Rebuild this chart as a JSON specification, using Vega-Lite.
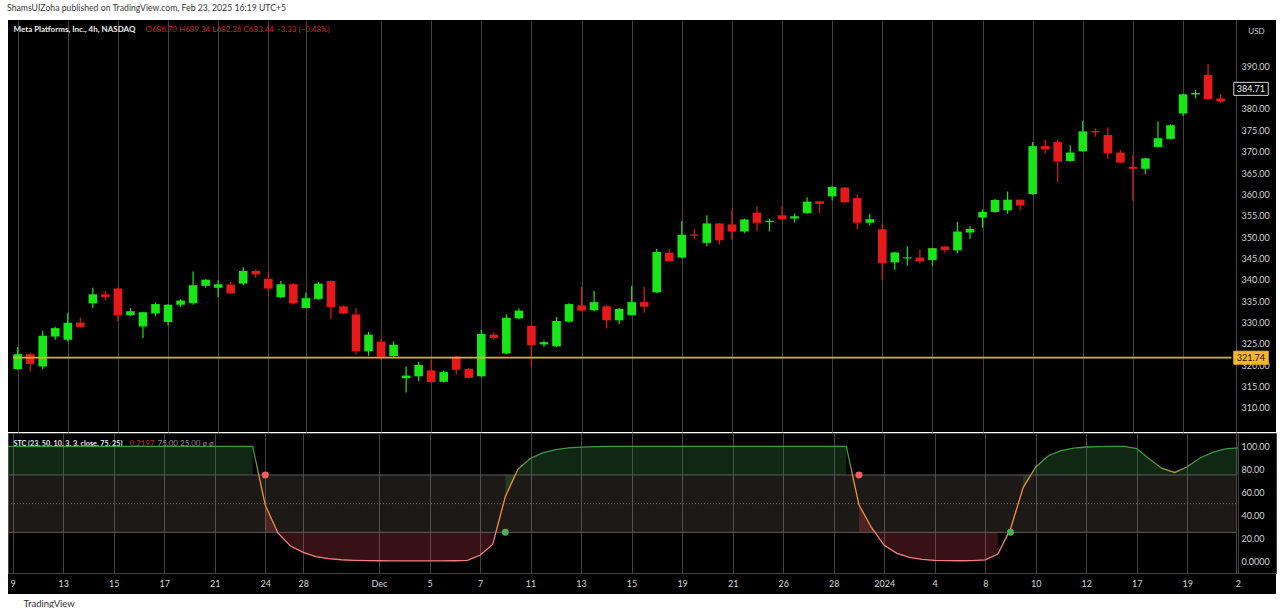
{
  "$schema": "https://vega.github.io/schema/vega-lite/v6.json",
  "background": "white",
  "padding": {"left": 7, "top": 4, "right": 5, "bottom": 0},
  "title": {"text": "ShamsUIZoha published on TradingView.com, Feb 23, 2025 16:19 UTC+5", "anchor": "start", "fontSize": 8.7, "fontWeight": "normal", "color": "#3a3a3a", "offset": 7.3},
  "spacing": 0,
  "datasets": {
    "bars": [
      {"i": -1, "s": 100, "z": "g1"},
      {"i": 0, "o": 319.06, "h": 324.24, "l": 318.9, "c": 322.56, "s": 100, "z": "g1"},
      {"i": 1, "o": 322.56, "h": 322.87, "l": 318.5, "c": 320.28, "s": 100, "z": "g1"},
      {"i": 2, "o": 319.67, "h": 328.05, "l": 319.06, "c": 326.9, "s": 100, "z": "g1"},
      {"i": 3, "o": 326.68, "h": 328.96, "l": 325.92, "c": 328.66, "s": 100, "z": "g1"},
      {"i": 4, "o": 325.92, "h": 332.24, "l": 325.61, "c": 329.95, "s": 100, "z": "g1"},
      {"i": 5, "o": 329.95, "h": 331.1, "l": 328.8, "c": 328.96, "s": 100, "z": "g1"},
      {"i": 6, "o": 334.45, "h": 338.11, "l": 333.38, "c": 336.58, "s": 100, "z": "g1"},
      {"i": 7, "o": 336.58, "h": 337.35, "l": 335.2, "c": 335.97, "s": 100, "z": "g1"},
      {"i": 8, "o": 337.95, "h": 338.11, "l": 330.34, "c": 331.71, "s": 100, "z": "g1"},
      {"i": 9, "o": 331.71, "h": 333.38, "l": 331.48, "c": 332.62, "s": 100, "z": "g1"},
      {"i": 10, "o": 329.04, "h": 332.5, "l": 326.37, "c": 332.39, "s": 100, "z": "g1"},
      {"i": 11, "o": 332.09, "h": 334.68, "l": 331.48, "c": 334.3, "s": 100, "z": "g1"},
      {"i": 12, "o": 330.1, "h": 334.3, "l": 329.42, "c": 334.14, "s": 100, "z": "g1"},
      {"i": 13, "o": 334.14, "h": 335.44, "l": 333.61, "c": 335.13, "s": 100, "z": "g1"},
      {"i": 14, "o": 334.52, "h": 341.9, "l": 334.14, "c": 338.72, "s": 100, "z": "g1"},
      {"i": 15, "o": 338.56, "h": 340.1, "l": 338.1, "c": 340.01, "s": 100, "z": "g1"},
      {"i": 16, "o": 338.11, "h": 339.86, "l": 335.9, "c": 338.94, "s": 100, "z": "g1"},
      {"i": 17, "o": 338.87, "h": 339.48, "l": 336.66, "c": 336.81, "s": 100, "z": "g1"},
      {"i": 18, "o": 339.1, "h": 342.91, "l": 338.72, "c": 342.07, "s": 100, "z": "g1"},
      {"i": 19, "o": 342.07, "h": 342.37, "l": 340.39, "c": 341.23, "s": 100, "z": "g1"},
      {"i": 20, "o": 340.24, "h": 341.76, "l": 337.19, "c": 337.95, "s": 48.5, "z": "r1", "d": 75},
      {"i": 21, "o": 335.9, "h": 339.71, "l": 335.67, "c": 338.94, "s": 24.5, "z": "r1"},
      {"i": 22, "o": 338.94, "h": 339.1, "l": 334.14, "c": 334.52, "s": 13, "z": "r1"},
      {"i": 23, "o": 333.38, "h": 336.96, "l": 333.23, "c": 335.67, "s": 7.5, "z": "r1"},
      {"i": 24, "o": 335.51, "h": 339.48, "l": 335.3, "c": 339.1, "s": 3.8, "z": "r1"},
      {"i": 25, "o": 339.71, "h": 339.8, "l": 330.87, "c": 333.61, "s": 2.0, "z": "r1"},
      {"i": 26, "o": 333.76, "h": 334.0, "l": 331.9, "c": 332.09, "s": 1.1, "z": "r1"},
      {"i": 27, "o": 331.86, "h": 333.38, "l": 322.49, "c": 323.25, "s": 0.6, "z": "r1"},
      {"i": 28, "o": 323.25, "h": 327.82, "l": 322.18, "c": 327.13, "s": 0.3, "z": "r1"},
      {"i": 29, "o": 325.53, "h": 326.15, "l": 321.19, "c": 321.95, "s": 0.2, "z": "r1"},
      {"i": 30, "o": 322.1, "h": 325.53, "l": 321.95, "c": 324.77, "s": 0.1, "z": "r1"},
      {"i": 31, "o": 316.93, "h": 319.67, "l": 313.57, "c": 317.54, "s": 0.1, "z": "r1"},
      {"i": 32, "o": 317.38, "h": 320.81, "l": 316.24, "c": 320.05, "s": 0.1, "z": "r1"},
      {"i": 33, "o": 318.75, "h": 321.19, "l": 315.9, "c": 316.01, "s": 0.1, "z": "r1"},
      {"i": 34, "o": 316.09, "h": 318.68, "l": 315.93, "c": 318.37, "s": 0.1, "z": "r1"},
      {"i": 35, "o": 321.95, "h": 322.18, "l": 317.77, "c": 318.91, "s": 0.2, "z": "r1"},
      {"i": 36, "o": 319.13, "h": 319.3, "l": 316.9, "c": 317.0, "s": 0.5, "z": "r1"},
      {"i": 37, "o": 317.38, "h": 328.2, "l": 317.23, "c": 327.29, "s": 5.0, "z": "r1"},
      {"i": 38, "o": 327.13, "h": 327.67, "l": 325.92, "c": 326.37, "s": 14.5, "z": "r1"},
      {"i": 39, "o": 322.72, "h": 331.86, "l": 322.56, "c": 331.1, "s": 56, "z": "g2", "d": 25},
      {"i": 40, "o": 330.94, "h": 333.23, "l": 330.72, "c": 332.77, "s": 80, "z": "g2"},
      {"i": 41, "o": 329.19, "h": 329.3, "l": 319.67, "c": 324.62, "s": 89.5, "z": "g2"},
      {"i": 42, "o": 324.85, "h": 325.76, "l": 324.24, "c": 325.38, "s": 94.5, "z": "g2"},
      {"i": 43, "o": 324.39, "h": 331.25, "l": 324.24, "c": 330.34, "s": 97.2, "z": "g2"},
      {"i": 44, "o": 330.18, "h": 334.5, "l": 329.95, "c": 334.3, "s": 98.6, "z": "g2"},
      {"i": 45, "o": 333.99, "h": 338.33, "l": 332.62, "c": 332.77, "s": 99.3, "z": "g2"},
      {"i": 46, "o": 332.85, "h": 337.35, "l": 332.62, "c": 334.75, "s": 99.7, "z": "g2"},
      {"i": 47, "o": 333.76, "h": 334.0, "l": 328.58, "c": 330.49, "s": 99.9, "z": "g2"},
      {"i": 48, "o": 330.49, "h": 333.38, "l": 329.65, "c": 333.15, "s": 100, "z": "g2"},
      {"i": 49, "o": 331.71, "h": 338.56, "l": 331.6, "c": 334.75, "s": 100, "z": "g2"},
      {"i": 50, "o": 334.75, "h": 338.33, "l": 332.24, "c": 333.69, "s": 100, "z": "g2"},
      {"i": 51, "o": 337.04, "h": 347.25, "l": 336.9, "c": 346.49, "s": 100, "z": "g2"},
      {"i": 52, "o": 346.33, "h": 347.25, "l": 344.2, "c": 344.36, "s": 100, "z": "g2"},
      {"i": 53, "o": 345.19, "h": 353.73, "l": 344.97, "c": 350.53, "s": 100, "z": "g2"},
      {"i": 54, "o": 350.6, "h": 351.8, "l": 349.5, "c": 350.3, "s": 100, "z": "g2"},
      {"i": 55, "o": 348.62, "h": 355.1, "l": 347.86, "c": 353.19, "s": 100, "z": "g2"},
      {"i": 56, "o": 353.19, "h": 353.3, "l": 348.24, "c": 349.23, "s": 100, "z": "g2"},
      {"i": 57, "o": 352.96, "h": 356.39, "l": 349.38, "c": 351.29, "s": 100, "z": "g2"},
      {"i": 58, "o": 351.29, "h": 354.33, "l": 350.91, "c": 354.11, "s": 100, "z": "g2"},
      {"i": 59, "o": 355.71, "h": 357.23, "l": 351.44, "c": 353.35, "s": 100, "z": "g2"},
      {"i": 60, "o": 353.5, "h": 354.33, "l": 351.29, "c": 353.8, "s": 100, "z": "g2"},
      {"i": 61, "o": 355.1, "h": 357.23, "l": 353.95, "c": 354.18, "s": 100, "z": "g2"},
      {"i": 62, "o": 354.33, "h": 355.48, "l": 353.42, "c": 354.87, "s": 100, "z": "g2"},
      {"i": 63, "o": 355.63, "h": 359.29, "l": 355.48, "c": 358.3, "s": 100, "z": "g2"},
      {"i": 64, "o": 358.37, "h": 358.5, "l": 355.63, "c": 357.76, "s": 100, "z": "g2"},
      {"i": 65, "o": 359.52, "h": 361.95, "l": 358.53, "c": 361.73, "s": 100, "z": "g2"},
      {"i": 66, "o": 361.57, "h": 361.73, "l": 358.0, "c": 358.14, "s": 100, "z": "g2"},
      {"i": 67, "o": 359.13, "h": 359.9, "l": 351.82, "c": 353.35, "s": 49, "z": "r2", "d": 75},
      {"i": 68, "o": 353.35, "h": 355.48, "l": 352.81, "c": 354.18, "s": 29, "z": "r2"},
      {"i": 69, "o": 351.82, "h": 353.19, "l": 339.86, "c": 343.9, "s": 13.7, "z": "r2"},
      {"i": 70, "o": 344.05, "h": 346.5, "l": 342.3, "c": 346.4, "s": 6.7, "z": "r2"},
      {"i": 71, "o": 345.0, "h": 347.86, "l": 343.29, "c": 345.25, "s": 3.2, "z": "r2"},
      {"i": 72, "o": 345.19, "h": 347.1, "l": 343.82, "c": 344.28, "s": 1.5, "z": "r2"},
      {"i": 73, "o": 344.58, "h": 347.5, "l": 343.29, "c": 347.4, "s": 0.6, "z": "r2"},
      {"i": 74, "o": 347.78, "h": 347.9, "l": 346.33, "c": 346.94, "s": 0.3, "z": "r2"},
      {"i": 75, "o": 346.87, "h": 353.57, "l": 346.18, "c": 351.29, "s": 0.2, "z": "r2"},
      {"i": 76, "o": 351.06, "h": 352.58, "l": 349.53, "c": 351.9, "s": 0.3, "z": "r2"},
      {"i": 77, "o": 354.56, "h": 356.47, "l": 352.2, "c": 355.86, "s": 1.0, "z": "r2"},
      {"i": 78, "o": 355.86, "h": 358.9, "l": 355.7, "c": 358.68, "s": 6.1, "z": "r2"},
      {"i": 79, "o": 356.24, "h": 360.66, "l": 355.48, "c": 358.75, "s": 28, "z": "n", "d": 25},
      {"i": 80, "o": 358.75, "h": 358.8, "l": 356.24, "c": 357.38, "s": 64, "z": "g3"},
      {"i": 81, "o": 360.05, "h": 372.24, "l": 359.9, "c": 371.3, "s": 82, "z": "g3"},
      {"i": 82, "o": 371.3, "h": 372.85, "l": 369.57, "c": 370.56, "s": 91.8, "z": "g3"},
      {"i": 83, "o": 372.24, "h": 372.85, "l": 362.87, "c": 367.67, "s": 96.2, "z": "g3"},
      {"i": 84, "o": 367.82, "h": 371.48, "l": 367.67, "c": 369.8, "s": 98.5, "z": "g3"},
      {"i": 85, "o": 370.1, "h": 377.19, "l": 369.95, "c": 374.75, "s": 99.4, "z": "g3"},
      {"i": 86, "o": 374.8, "h": 375.44, "l": 373.5, "c": 374.5, "s": 99.8, "z": "g3"},
      {"i": 87, "o": 373.91, "h": 375.67, "l": 368.28, "c": 369.57, "s": 100, "z": "g3"},
      {"i": 88, "o": 369.8, "h": 370.33, "l": 367.29, "c": 367.44, "s": 100, "z": "g3"},
      {"i": 89, "o": 366.45, "h": 369.2, "l": 358.5, "c": 365.99, "s": 98, "z": "g3"},
      {"i": 90, "o": 365.99, "h": 368.58, "l": 364.77, "c": 368.43, "s": 88.9, "z": "g3"},
      {"i": 91, "o": 371.1, "h": 377.04, "l": 370.95, "c": 373.15, "s": 80.7, "z": "g3"},
      {"i": 92, "o": 373.0, "h": 376.43, "l": 372.85, "c": 376.2, "s": 77.2, "z": "g3"},
      {"i": 93, "o": 378.94, "h": 383.5, "l": 378.33, "c": 383.44, "s": 82.2, "z": "g3"},
      {"i": 94, "o": 383.4, "h": 384.43, "l": 382.5, "c": 383.75, "s": 89.8, "z": "g3"},
      {"i": 95, "o": 388.01, "h": 390.5, "l": 382.2, "c": 382.3, "s": 94.7, "z": "g3"},
      {"i": 96, "o": 382.45, "h": 383.44, "l": 381.38, "c": 381.76, "s": 97.7, "z": "g3"},
      {"i": 97, "s": 98.6, "z": "g3"}
    ],
    "tags": [
      {"p": 321.74, "t": "321.74", "kind": "hl"},
      {"p": 384.71, "t": "384.71", "kind": "last"}
    ]
  },
  "vconcat": [
    {
      "width": 1268,
      "height": 412,
      "view": {"fill": "#000000", "stroke": null},
      "data": {"name": "bars"},
      "resolve": {"axis": {"x": "independent"}},
      "layer": [
        {
          "mark": {"type": "rule", "strokeWidth": 1.2},
          "encoding": {
            "x": {"field": "i", "type": "quantitative", "scale": {"domain": [-0.372, 100.02], "nice": false, "zero": false},
              "axis": {"orient": "top", "values": [0,4,8,12,16,20,23,29,33,37,41,45,49,53,57,61,65,69,73,77,81,85,89,93], "tickCount": 100, "labels": false, "ticks": false, "domain": false, "grid": true, "gridColor": "#424242", "gridWidth": 1, "zindex": 0,
                "title": "O686.70 H689.34 L682.36 C683.44 −3.33 (−0.48%)", "titleColor": "#c42a2a", "titleX": 137, "titleY": 9, "titleAlign": "left", "titleBaseline": "middle", "titleFontSize": 8, "titleFontWeight": "normal"}},
            "y": {"field": "l", "type": "quantitative", "scale": {"domain": [305.5, 399.67], "nice": false, "zero": false},
              "axis": {"orient": "right", "offset": -40, "values": [310,315,320,325,330,335,340,345,350,355,360,365,370,375,380,390], "tickCount": 100, "format": ".2f", "labelColor": "#d4d4d4", "labelFontSize": 9, "labelPadding": 5, "labelAlign": "left", "labelBaseline": "middle", "labelOverlap": false, "ticks": false, "domain": true, "domainColor": "#4a4a4a", "grid": false, "zindex": 0,
                "title": "USD", "titleAngle": 0, "titleX": 20, "titleY": 11, "titleAlign": "center", "titleBaseline": "middle", "titleColor": "#cccccc", "titleFontSize": 8, "titleFontWeight": "normal"}},
            "y2": {"field": "h"},
            "color": {"condition": {"test": "datum.c >= datum.o", "value": "#19e619"}, "value": "#e61a1a"}
          }
        },
        {
          "mark": {"type": "bar", "width": 8.6},
          "encoding": {
            "x": {"field": "i", "type": "quantitative",
              "axis": {"orient": "bottom", "labels": false, "ticks": false, "domain": false, "grid": false, "zindex": 0,
                "title": "Meta Platforms, Inc., 4h, NASDAQ", "titleColor": "#ececec", "titleX": 5, "titleY": -403, "titleAlign": "left", "titleBaseline": "middle", "titleFontSize": 8, "titleFontWeight": "bold"}},
            "y": {"field": "o", "type": "quantitative"},
            "y2": {"field": "c"},
            "color": {"condition": {"test": "datum.c >= datum.o", "value": "#19e619"}, "value": "#e61a1a"}
          }
        },
        {
          "data": {"name": "tags"},
          "transform": [{"filter": "datum.kind == 'hl'"}],
          "mark": {"type": "rule", "color": "#f2a81d", "strokeWidth": 1.6},
          "encoding": {
            "y": {"field": "p", "type": "quantitative"},
            "x": {"datum": -0.372, "type": "quantitative", "axis": null},
            "x2": {"datum": 96.86}
          }
        },
        {
          "data": {"name": "tags"},
          "mark": {"type": "bar", "height": 13, "strokeWidth": 1},
          "encoding": {
            "y": {"field": "p", "type": "quantitative"},
            "x": {"datum": 97.05, "type": "quantitative", "axis": null},
            "x2": {"datum": 99.8},
            "fill": {"field": "kind", "type": "nominal", "scale": {"domain": ["hl", "last"], "range": ["#f5b526", "#000000"]}, "legend": null},
            "stroke": {"field": "kind", "type": "nominal", "scale": {"domain": ["hl", "last"], "range": ["#f5b526", "#d8d8d8"]}, "legend": null}
          }
        },
        {
          "data": {"name": "tags"},
          "mark": {"type": "text", "fontSize": 9, "align": "center", "baseline": "middle"},
          "encoding": {
            "y": {"field": "p", "type": "quantitative"},
            "x": {"datum": 98.42, "type": "quantitative", "axis": null},
            "text": {"field": "t"},
            "color": {"field": "kind", "type": "nominal", "scale": {"domain": ["hl", "last"], "range": ["#141414", "#eeeeee"]}, "legend": null}
          }
        }
      ]
    },
    {
      "width": 1268,
      "height": 140,
      "view": {"fill": "#000000", "stroke": "#454545"},
      "data": {"name": "bars"},
      "resolve": {"axis": {"x": "independent"}},
      "layer": [
        {
          "data": {"values": [{}]},
          "mark": {"type": "rect", "color": "#9b8b7a", "opacity": 0.18},
          "encoding": {
            "x": {"datum": -0.372, "type": "quantitative", "scale": {"domain": [-0.372, 100.02], "nice": false, "zero": false},
              "axis": {"orient": "top", "values": [0,4,8,12,16,20,23,29,33,37,41,45,49,53,57,61,65,69,73,77,81,85,89,93,97], "tickCount": 100, "labels": false, "ticks": false, "domain": false, "grid": true, "gridColor": "#424242", "gridWidth": 1, "zindex": 0,
                "title": "75.00 25.00 ø ø", "titleColor": "#8f8f8f", "titleX": 149, "titleY": 10, "titleAlign": "left", "titleBaseline": "middle", "titleFontSize": 8, "titleFontWeight": "normal"}},
            "x2": {"datum": 96.86},
            "y": {"datum": 25, "type": "quantitative", "scale": {"domain": [-10.46, 111.6], "nice": false, "zero": false},
              "axis": {"orient": "right", "offset": -40, "values": [0, 20, 40, 60, 80, 100], "tickCount": 100, "labelExpr": "datum.value == 0 ? '0.0000' : format(datum.value, '.2f')", "labelColor": "#d4d4d4", "labelFontSize": 9, "labelPadding": 5, "labelAlign": "left", "labelBaseline": "middle", "labelOverlap": false, "ticks": false, "domain": true, "domainColor": "#4a4a4a", "grid": false, "zindex": 0,
                "title": "0.2197", "titleAngle": 0, "titleX": -1107, "titleY": 10, "titleAlign": "left", "titleBaseline": "middle", "titleColor": "#c42a2a", "titleFontSize": 8, "titleFontWeight": "normal"}},
            "y2": {"datum": 75}
          }
        },
        {
          "transform": [{"filter": "datum.z == 'r1' || datum.z == 'r2'"}],
          "mark": {"type": "area", "color": "#e84850", "opacity": 0.24, "clip": true},
          "encoding": {
            "x": {"field": "i", "type": "quantitative",
              "axis": {"orient": "bottom", "labels": false, "ticks": false, "domain": false, "grid": false, "zindex": 0,
                "title": "STC (23, 50, 10, 3, 3, close, 75, 25)", "titleColor": "#ececec", "titleX": 5, "titleY": -130, "titleAlign": "left", "titleBaseline": "middle", "titleFontSize": 7.2, "titleFontWeight": "bold"}},
            "y": {"field": "s", "type": "quantitative"},
            "y2": {"datum": 25},
            "detail": {"field": "z"}
          }
        },
        {
          "transform": [{"filter": "datum.z == 'g1' || datum.z == 'g2' || datum.z == 'g3'"}],
          "mark": {"type": "area", "color": "#3c9c4c", "opacity": 0.25, "clip": true},
          "encoding": {
            "x": {"field": "i", "type": "quantitative", "axis": null},
            "y": {"field": "s", "type": "quantitative"},
            "y2": {"datum": 75},
            "detail": {"field": "z"}
          }
        },
        {
          "data": {"values": [{}]},
          "mark": {"type": "rule", "color": "#5c5c5c", "strokeWidth": 1},
          "encoding": {"y": {"datum": 75, "type": "quantitative"}, "x": {"datum": -0.372, "type": "quantitative", "axis": null}, "x2": {"datum": 96.86}}
        },
        {
          "data": {"values": [{}]},
          "mark": {"type": "rule", "color": "#5c5c5c", "strokeWidth": 1},
          "encoding": {"y": {"datum": 25, "type": "quantitative"}, "x": {"datum": -0.372, "type": "quantitative", "axis": null}, "x2": {"datum": 96.86}}
        },
        {
          "data": {"values": [{}]},
          "mark": {"type": "rule", "color": "#6a6a6a", "strokeWidth": 1, "strokeDash": [1, 2]},
          "encoding": {"y": {"datum": 50, "type": "quantitative"}, "x": {"datum": -0.372, "type": "quantitative", "axis": null}, "x2": {"datum": 96.86}}
        },
        {
          "mark": {"type": "line", "strokeWidth": 1.3, "clip": true,
            "stroke": {"gradient": "linear", "x1": 0, "y1": 0, "x2": 0, "y2": 1,
              "stops": [
                {"offset": 0, "color": "#3f9645"},
                {"offset": 0.12, "color": "#3f9645"},
                {"offset": 0.28, "color": "#f0932b"},
                {"offset": 0.62, "color": "#f0932b"},
                {"offset": 0.8, "color": "#f07f80"},
                {"offset": 1, "color": "#f07f80"}
              ]}},
          "encoding": {
            "x": {"field": "i", "type": "quantitative", "axis": null},
            "y": {"field": "s", "type": "quantitative"}
          }
        },
        {
          "transform": [{"filter": "isValid(datum.d)"}],
          "mark": {"type": "point", "filled": true, "size": 48, "opacity": 1},
          "encoding": {
            "x": {"field": "i", "type": "quantitative", "axis": null},
            "y": {"field": "d", "type": "quantitative"},
            "color": {"condition": {"test": "datum.d > 50", "value": "#f25c5c"}, "value": "#4caf50"}
          }
        }
      ]
    },
    {
      "width": 1268,
      "height": 20,
      "view": {"fill": "#000000", "stroke": null},
      "data": {"name": "bars"},
      "transform": [{"filter": "datum.i >= 0"}],
      "mark": {"type": "point", "opacity": 0, "clip": true},
      "encoding": {
        "x": {"field": "i", "type": "quantitative", "scale": {"domain": [-0.372, 100.02], "nice": false, "zero": false},
          "axis": {"orient": "bottom", "offset": -20, "values": [0,4,8,12,16,20,23,29,33,37,41,45,49,53,57,61,65,69,73,77,81,85,89,93,97], "tickCount": 100,
            "labelExpr": "['9','13','15','17','21','24','28','Dec','5','7','11','13','15','19','21','26','28','2024','4','8','10','12','17','19','2'][indexof([0,4,8,12,16,20,23,29,33,37,41,45,49,53,57,61,65,69,73,77,81,85,89,93,97], datum.value)]",
            "labels": true, "ticks": false, "domain": false, "grid": false, "labelColor": "#d4d4d4", "labelFontSize": 9, "labelPadding": 5, "labelOverlap": false, "labelFlush": false, "zindex": 0,
            "title": "TradingView", "titleX": 15, "titleY": 29, "titleAlign": "left", "titleAnchor": "start", "titleBaseline": "middle", "titleColor": "#333333", "titleFontSize": 9.5, "titleFontWeight": "normal"}}
      }
    }
  ],
  "config": {
    "font": "Lato",
    "view": {"stroke": null},
    "axis": {"labelOverlap": false}
  }
}
